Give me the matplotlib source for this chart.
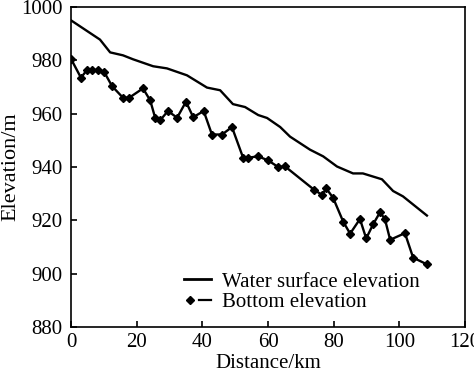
import matplotlib
matplotlib.use('Agg')
import matplotlib.pyplot as plt
from matplotlib.lines import Line2D
from matplotlib.legend_handler import HandlerTuple

# Water surface elevation
water_km = [0, 8.8, 11.9, 15.8, 18.9, 25, 29.2, 35.3, 41.4, 45.4, 49.3, 53,
            57, 59.7, 63.7, 66.7, 72.8, 76.8, 81, 85.9, 88.9, 94.7, 98.1,
            101.1, 108.4]
water_elev = [995, 987.8, 983, 981.9, 980.4, 977.8, 977, 974.4, 969.8, 968.8,
              963.6, 962.5, 959.5, 958.4, 955, 951.4, 946.5, 944, 940.2,
              937.6, 937.6, 935.4, 931, 929, 921.8]

# Bottom elevation
bottom_km = [0, 3, 4.9, 6.4, 8.2, 10, 12.5, 15.8, 17.7, 21.9, 24.1, 25.6,
             27.1, 29.5, 32.3, 35, 37.2, 40.4, 42.9, 46, 49, 52.4, 53.9, 57,
             60, 63.1, 65.2, 74, 76.5, 77.7, 79.8, 82.9, 85, 88, 89.9, 92,
             94.1, 95.6, 97.2, 101.7, 104.2, 108.4]
bottom_elev = [980.5, 973.5, 976.5, 976.5, 976.3, 975.8, 970.3, 966, 966,
               969.5, 965, 958.5, 957.5, 961, 958.5, 964.5, 958.7, 961,
               952.2, 952.2, 955, 943.5, 943.5, 944, 942.5, 940, 940.2,
               931.5, 929.5, 932, 928.5, 919.5, 915, 920.5, 913.2, 918.5,
               923, 920.5, 912.7, 915.2, 906, 903.5]

plt.rcParams['font.family'] = 'Liberation Serif'
plt.rcParams['font.size'] = 15

fig = plt.figure(figsize=(4.74, 3.72), dpi=100)
ax = fig.add_axes([0.150, 0.121, 0.831, 0.860])

ax.plot(water_km, water_elev, color='black', lw=1.7)
ax.plot(bottom_km, bottom_elev, color='black', lw=1.7, marker='D', markersize=4.5)

ax.set_xlim(0, 120)
ax.set_ylim(880, 1000)
ax.set_xticks(range(0, 121, 20))
ax.set_yticks(range(880, 1001, 20))
ax.tick_params(direction='in', length=4, width=1.2, top=False, right=False)
ax.tick_params(axis='y', pad=6)
ax.tick_params(axis='x', pad=4)
for s in ax.spines.values():
    s.set_linewidth(1.2)

ax.set_xlabel('Distance/km', labelpad=2)
ax.set_ylabel('Elevation/m', labelpad=1, fontsize=16)

# Legend: bottom elevation shown as marker then dash
h_water = Line2D([], [], color='black', lw=2)
h_mark = Line2D([], [], color='black', lw=0, marker='D', markersize=4)
h_dash = Line2D([], [], color='black', lw=1.6)
ax.legend([h_water, (h_mark, h_dash)],
          ['Water surface elevation', 'Bottom elevation'],
          handler_map={tuple: HandlerTuple(ndivide=None, pad=0.1)},
          loc='lower left', bbox_to_anchor=(0.25, 0.0), frameon=False,
          handlelength=1.3, handletextpad=0.5, labelspacing=0.05,
          borderpad=0.2, fontsize=15)

fig.savefig('out.png', dpi=100)
